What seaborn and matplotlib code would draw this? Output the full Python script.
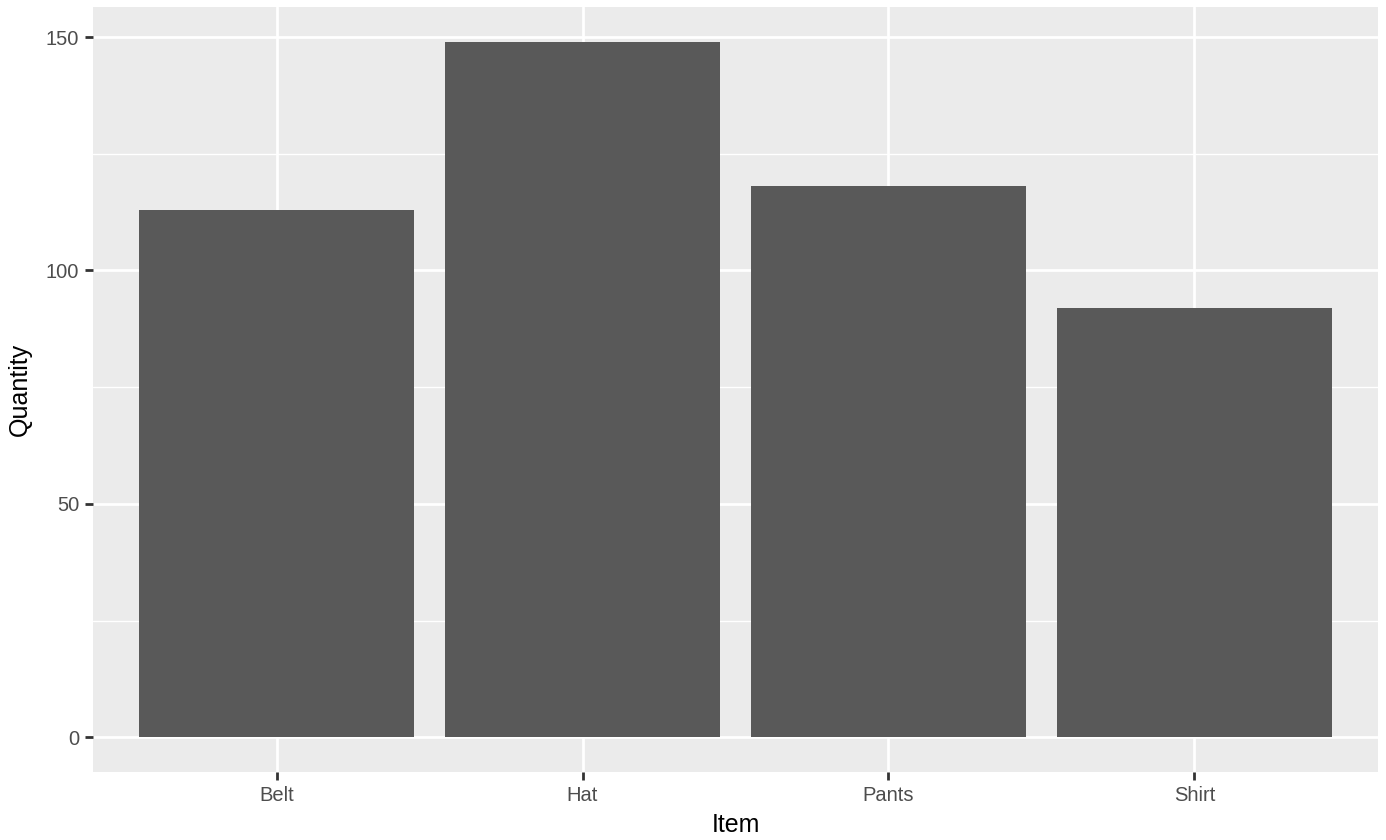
import pandas as pd
import seaborn as sns
import matplotlib.pyplot as plt
from matplotlib.ticker import MultipleLocator

items = ['Belt', 'Hat', 'Pants', 'Shirt']
quantity = [113, 149, 118, 92]

df = pd.DataFrame({'Item': items, 'Quantity': quantity})

sns.set_style('darkgrid', {
    'axes.facecolor': '#EBEBEB',
    'grid.color': 'white',
})
plt.rcParams['font.family'] = ['Liberation Sans', 'DejaVu Sans']

fig = plt.figure(figsize=(13.86, 8.4), dpi=100)
ax = fig.add_axes([93 / 1386, 1 - 772 / 840, (1378 - 93) / 1386, (772 - 7) / 840])

sns.barplot(data=df, x='Item', y='Quantity', color='#595959', saturation=1,
            width=0.9, ax=ax, zorder=3)
for p in ax.patches:
    p.set_edgecolor('none')

ax.set_xlim(-0.6, 3.6)
ax.set_ylim(-7.45, 156.45)
ax.yaxis.set_major_locator(MultipleLocator(50))
ax.yaxis.set_minor_locator(MultipleLocator(25))
ax.grid(which='major', color='white', linewidth=2.0, zorder=0)
ax.grid(which='minor', axis='y', color='white', linewidth=1.0, zorder=0)
ax.set_axisbelow(True)
for s in ax.spines.values():
    s.set_visible(False)

ax.tick_params(axis='both', which='major', bottom=True, left=True, length=6,
               width=2, color='#333333', labelcolor='#4D4D4D', labelsize=14.5,
               pad=4)
ax.tick_params(axis='both', which='minor', length=0)
ax.set_xlabel('Item', fontsize=18, color='black', labelpad=6)
ax.set_ylabel('Quantity', fontsize=18, color='black', labelpad=10)

fig.savefig('out.png', dpi=100)
